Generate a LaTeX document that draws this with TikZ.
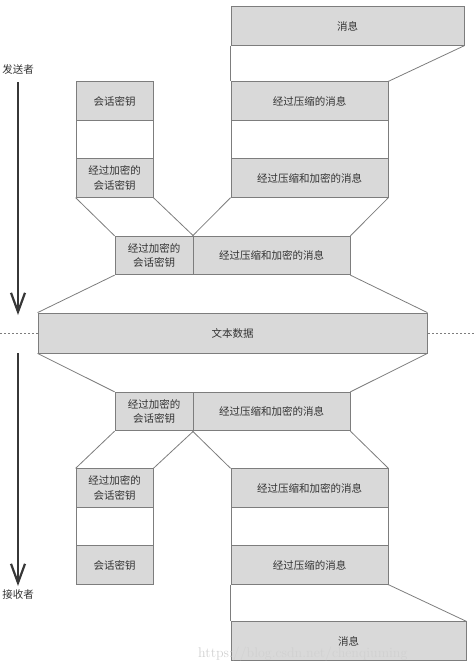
\documentclass[tikz,border=0pt]{standalone}
\usepackage{fontspec}
\newfontfamily\cjk{Noto Sans CJK SC}
\usetikzlibrary{arrows.meta}
\definecolor{cellgray}{RGB}{217,217,217}
\definecolor{linegray}{RGB}{125,125,125}
\definecolor{arrowgray}{RGB}{55,55,55}
\tikzset{
  cell/.style={draw=linegray, line width=0.8pt, fill=cellgray, rectangle, inner sep=0pt,
    minimum height=#1, font=\cjk\fontsize{10.5}{14.5}\selectfont, align=center, text=black!80},
  cell/.default=38.5pt,
  blank/.style={cell=#1, fill=white},
  blank/.default=38.5pt,
  link/.style={draw=linegray, line width=0.8pt},
  flow/.style={draw=arrowgray, line width=2.2pt, -{Straight Barb[length=19pt,width=14pt,line width=2.2pt]}},
  who/.style={font=\cjk\fontsize{10.5}{12}\selectfont, text=black!80, inner sep=0pt},
}
\begin{document}
\begin{tikzpicture}[x=1pt,y=-1pt]
\useasboundingbox (0,0) rectangle (474,669);
% divider
\draw[linegray, dash pattern=on 2pt off 2pt, line width=0.6pt] (0,333) -- (474,333);
% sender side, right column
\node[cell, minimum width=233pt] (msgT) at (347.5,26) {消息};
\node[cell, minimum width=157pt] (cmpT) at (309.5,101) {经过压缩的消息};
\node[blank, minimum width=157pt] (wR1) at (309.5,139.5) {};
\node[cell, minimum width=157pt] (encT) at (309.5,178) {经过压缩和加密的消息};
% sender side, left column
\node[cell, minimum width=77pt] (keyT) at (114.5,101) {会话密钥};
\node[blank, minimum width=77pt] (wL1) at (114.5,139.5) {};
\node[cell, minimum width=77pt] (ekeyT) at (114.5,178) {经过加密的\\会话密钥};
% middle top row
\node[cell, minimum width=78pt] (ekM1) at (154,255.5) {经过加密的\\会话密钥};
\node[cell, minimum width=157pt] (emM1) at (271.5,255.5) {经过压缩和加密的消息};
% text data
\node[cell=40pt, minimum width=389pt] (data) at (232.5,333) {文本数据};
% middle bottom row
\node[cell, minimum width=78pt] (ekM2) at (154,411.5) {经过加密的\\会话密钥};
\node[cell, minimum width=157pt] (emM2) at (271.5,411.5) {经过压缩和加密的消息};
% receiver side, left column
\node[cell, minimum width=77pt] (ekeyB) at (114.5,488) {经过加密的\\会话密钥};
\node[blank, minimum width=77pt] (wL2) at (114.5,526.5) {};
\node[cell, minimum width=77pt] (keyB) at (114.5,565) {会话密钥};
% receiver side, right column
\node[cell, minimum width=157pt] (encB) at (309.5,488) {经过压缩和加密的消息};
\node[blank, minimum width=157pt] (wR2) at (309.5,526.5) {};
\node[cell, minimum width=157pt] (cmpB) at (309.5,565) {经过压缩的消息};
\node[cell, minimum width=235pt] (msgB) at (348.5,641) {消息};
% connectors (sender)
\draw[link] (msgT.south west) -- (cmpT.north west);
\draw[link] (msgT.south east) -- (cmpT.north east);
\draw[link] (ekeyT.south west) -- (ekM1.north west);
\draw[link] (ekeyT.south east) -- (ekM1.north east);
\draw[link] (encT.south west) -- (emM1.north west);
\draw[link] (encT.south east) -- (emM1.north east);
\draw[link] (ekM1.south west) -- (data.north west);
\draw[link] (emM1.south east) -- (data.north east);
% connectors (receiver)
\draw[link] (data.south west) -- (ekM2.north west);
\draw[link] (data.south east) -- (emM2.north east);
\draw[link] (ekM2.south west) -- (ekeyB.north west);
\draw[link] (ekM2.south east) -- (ekeyB.north east);
\draw[link] (emM2.south west) -- (encB.north west);
\draw[link] (emM2.south east) -- (encB.north east);
\draw[link] (cmpB.south west) -- (msgB.north west);
\draw[link] (cmpB.south east) -- (msgB.north east);
% sender / receiver arrows
\node[who] (snd) at (18,70) {发送者};
\node[who] (rcv) at (18,595) {接收者};
\coordinate (s0) at (18,82);
\coordinate (s1) at (18,315);
\coordinate (r0) at (18,353);
\coordinate (r1) at (18,586);
\draw[flow] (s0) -- (s1);
\draw[flow] (r0) -- (r1);
% watermark
\node[font=\fontsize{14}{14}\selectfont, text=black!18, anchor=base west, inner sep=0pt] (wm) at (198,657) {https://blog.csdn.net/chenqiuming};
\end{tikzpicture}
\end{document}
